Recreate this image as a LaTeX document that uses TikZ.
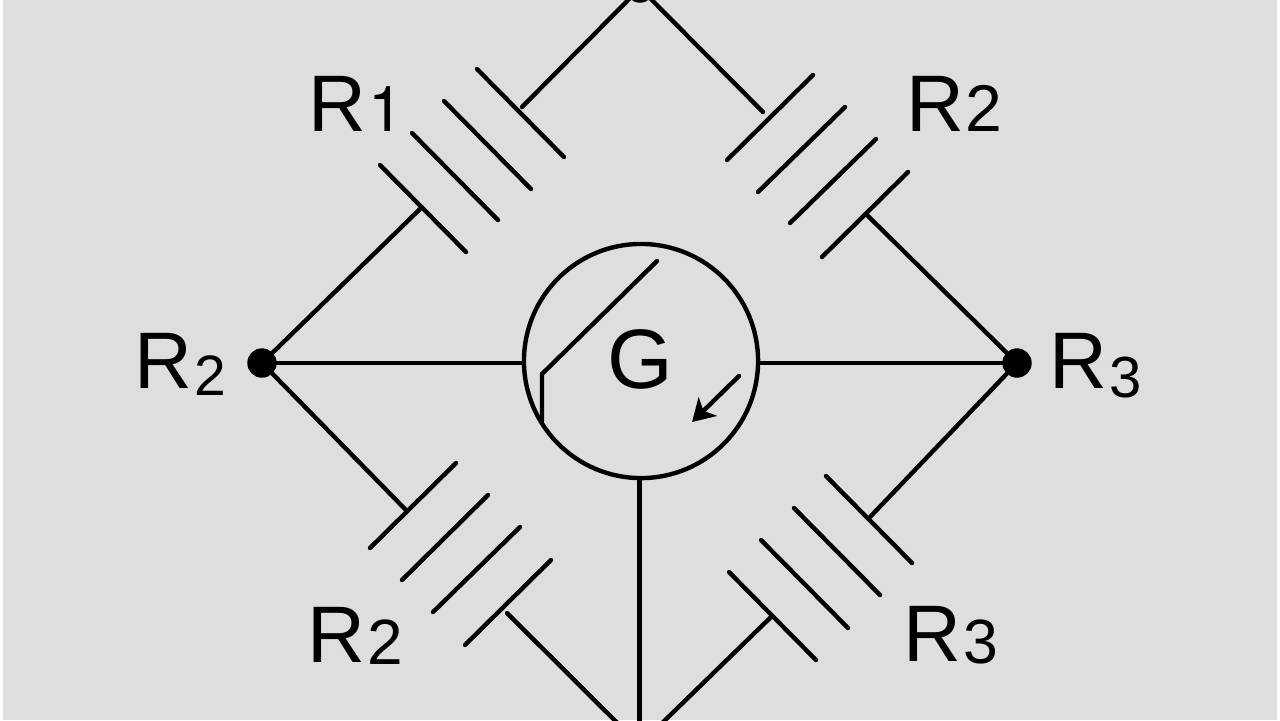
\documentclass[tikz,border=0pt]{standalone}
\usepackage{fontspec}
\setmainfont{Liberation Sans}
\newfontfamily\heros{TeX Gyre Heros}
\usetikzlibrary{arrows.meta}
\newcommand{\subtext}[3]{\kern0.4pt\raisebox{-#2pt}{\fontsize{#1}{#1}\selectfont #3}}

\begin{document}
\begin{tikzpicture}[x=0.01cm,y=-0.01cm,
	wire/.style={line width=1.25pt,line cap=round},
	plate/.style={line width=1.25pt,line cap=round},
	dot/.style={draw,circle,fill=black,inner sep=0pt,minimum size=0.28cm},
	label/.style={inner sep=0pt,anchor=base west,font=\fontsize{22.8}{22.8}\selectfont}]
	\begingroup
	\useasboundingbox (0,0) rectangle (1280,720);
	\fill[white] (0,0) rectangle (1280,720);
	\fill[fill=black!13] (3,0) rectangle (1277,720);
	
	\node[dot] (top) at (640,-12) {};
	\node[dot] (left) at (262,363) {};
	\node[dot] (right) at (1017,363) {};
	\coordinate (bottom) at (639.5,745);
	\node[draw,circle,line width=1.25pt,inner sep=0pt,minimum size=2.34cm] (meter) at (641,361) {};
	
	\coordinate (tl1) at (420,209);
	\coordinate (tl2) at (522,107);
	\coordinate (tr1) at (763,112);
	\coordinate (tr2) at (868,216);
	\coordinate (bl1) at (405,509);
	\coordinate (bl2) at (507,613);
	\coordinate (br1) at (870,517);
	\coordinate (br2) at (772,616);
	
	\draw[plate] (380,165) -- (466,252);
	\draw[plate] (412,133) -- (498,220);
	\draw[plate] (444,101) -- (531,189);
	\draw[plate] (477,69) -- (564,157);
	
	\draw[plate] (813,75) -- (727,160);
	\draw[plate] (845,107) -- (758,192);
	\draw[plate] (876,139) -- (790,223);
	\draw[plate] (908,172) -- (822,257);
	
	\draw[plate] (456,463) -- (370,548);
	\draw[plate] (488,495) -- (402,580);
	\draw[plate] (520,527) -- (433,612);
	\draw[plate] (551,560) -- (465,645);
	
	\draw[plate] (826,476) -- (912,563);
	\draw[plate] (794,508) -- (880,595);
	\draw[plate] (761,540) -- (848,628);
	\draw[plate] (729,572) -- (816,660);
	
	\draw[wire] (left) -- (tl1);
	\draw[wire] (tl2) -- (top);
	\draw[wire] (top) -- (tr1);
	\draw[wire] (tr2) -- (right);
	\draw[wire] (left) -- (bl1);
	\draw[wire] (bl2) -- (bottom);
	\draw[wire] (right) -- (br1);
	\draw[wire] (br2) -- (bottom);
	\draw[wire] (left) -- (left -| meter.west);
	\draw[wire] (right) -- (right -| meter.east);
	\draw[wire] (bottom |- meter.south) -- (bottom);
	
	\coordinate (needle1) at (657,261);
	\coordinate (needle2) at (542,374);
	\coordinate (needle3) at (542,421);
	\coordinate (pointer1) at (739,376);
	\coordinate (pointer2) at (692,422);
	\draw[wire,line join=miter] (needle1) -- (needle2) -- (needle3);
	\draw[wire,-{Stealth[length=0.22cm,width=0.26cm,inset=0.06cm]}] (pointer1) -- (pointer2);
	
	\node[label,font=\fontsize{24}{24}\selectfont] (gauge) at (606.5,388) {G};
	\node[label] (r1) at (308,131) {R{\heros\subtext{18}{0}{1}}};
	\node[label] (r2a) at (905.6,131) {R\subtext{18.8}{0}{2}};
	\node[label] (r2b) at (134,388) {R\subtext{16.2}{2}{2}};
	\node[label] (r3a) at (1049,388) {R\subtext{16.5}{2.8}{3}};
	\node[label] (r2c) at (307,662) {R\subtext{18.2}{0.6}{2}};
	\node[label] (r3b) at (903,661) {R\subtext{17.8}{0.8}{3}};
	\endgroup
\end{tikzpicture}
\end{document}
